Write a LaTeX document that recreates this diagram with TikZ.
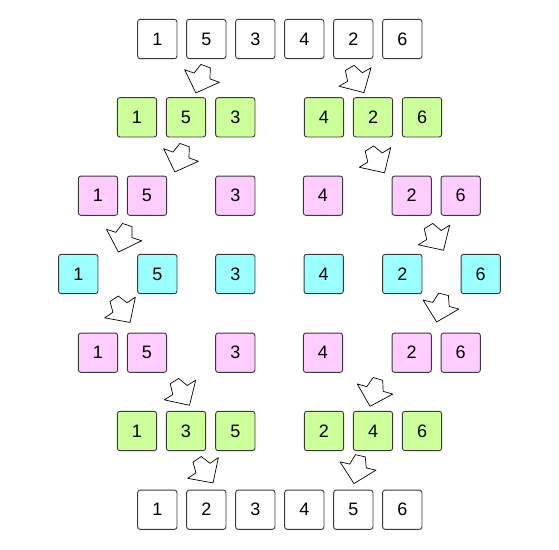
\documentclass[tikz,border=0pt]{standalone}
\usepackage{fontspec}
\setmainfont{Liberation Sans}
\definecolor{grn}{HTML}{CCFF99}
\definecolor{pnk}{HTML}{FFCCFF}
\definecolor{cyn}{HTML}{99FFFF}
\definecolor{edge}{HTML}{3A3A3A}
\newcommand\blockarr[2]{\draw[blockarrow, shift={(#1)}, rotate=#2] (-18.5,0) -- (-8.5,0) -- (-5,-10.5) -- (5,-10.5) -- (8.5,0) -- (18.5,0) -- (0,18) -- cycle;}
\begin{document}
\begin{tikzpicture}[x=1pt,y=-1pt,
  box/.style={draw=edge, line width=0.9pt, rounded corners=2.5pt, minimum width=39.3pt, minimum height=39.3pt, inner sep=0pt, font=\fontsize{18}{18}\selectfont, text=black},
  wbox/.style={box, fill=white},
  gbox/.style={box, fill=grn},
  pbox/.style={box, fill=pnk},
  cbox/.style={box, fill=cyn},
  blockarrow/.style={draw=black, fill=white, line width=0.7pt, line join=round}]
\useasboundingbox (0,0) rectangle (559,549);
% row 1
\node[wbox] (r1a) at (157.3,39) {1};
\node[wbox] (r1b) at (206.3,39) {5};
\node[wbox] (r1c) at (255.3,39) {3};
\node[wbox] (r1d) at (304.3,39) {4};
\node[wbox] (r1e) at (353.3,39) {2};
\node[wbox] (r1f) at (402.3,39) {6};
% row 2
\node[gbox] (r2a) at (137,117.3) {1};
\node[gbox] (r2b) at (186,117.3) {5};
\node[gbox] (r2c) at (235.3,117.3) {3};
\node[gbox] (r2d) at (324,117.3) {4};
\node[gbox] (r2e) at (373,117.3) {2};
\node[gbox] (r2f) at (422,117.3) {6};
% row 3
\node[pbox] (r3a) at (98,195.7) {1};
\node[pbox] (r3b) at (147,195.7) {5};
\node[pbox] (r3c) at (235.3,195.7) {3};
\node[pbox] (r3d) at (323,195.7) {4};
\node[pbox] (r3e) at (411.7,195.7) {2};
\node[pbox] (r3f) at (460.7,195.7) {6};
% row 4
\node[cbox] (r4a) at (78.3,274) {1};
\node[cbox] (r4b) at (157.3,274) {5};
\node[cbox] (r4c) at (235.3,274) {3};
\node[cbox] (r4d) at (323.7,274) {4};
\node[cbox] (r4e) at (402.3,274) {2};
\node[cbox] (r4f) at (480.7,274) {6};
% row 5
\node[pbox] (r5a) at (98,352.7) {1};
\node[pbox] (r5b) at (147,352.7) {5};
\node[pbox] (r5c) at (235.3,352.7) {3};
\node[pbox] (r5d) at (323,352.7) {4};
\node[pbox] (r5e) at (411.7,352.7) {2};
\node[pbox] (r5f) at (460.7,352.7) {6};
% row 6
\node[gbox] (r6a) at (137,431) {1};
\node[gbox] (r6b) at (186,431) {3};
\node[gbox] (r6c) at (235.3,431) {5};
\node[gbox] (r6d) at (324,431) {2};
\node[gbox] (r6e) at (373,431) {4};
\node[gbox] (r6f) at (422,431) {6};
% row 7
\node[wbox] (r7a) at (157.3,509.7) {1};
\node[wbox] (r7b) at (206.3,509.7) {2};
\node[wbox] (r7c) at (255.3,509.7) {3};
\node[wbox] (r7d) at (304.3,509.7) {4};
\node[wbox] (r7e) at (353.3,509.7) {5};
\node[wbox] (r7f) at (402.3,509.7) {6};
% arrows
\coordinate (a1) at (202,76);
\coordinate (a2) at (355,77);
\coordinate (a3) at (181,155);
\coordinate (a4) at (375,157.5);
\coordinate (a5) at (124,235);
\coordinate (a6) at (434,235);
\coordinate (a7) at (120,307.5);
\coordinate (a8) at (441,304.5);
\coordinate (a9) at (180,390);
\coordinate (a10) at (375,389);
\coordinate (a11) at (203,468);
\coordinate (a12) at (358,466);
\blockarr{a1}{-20}
\blockarr{a2}{30}
\blockarr{a3}{-20}
\blockarr{a4}{32}
\blockarr{a5}{-18}
\blockarr{a6}{32}
\blockarr{a7}{34}
\blockarr{a8}{-14}
\blockarr{a9}{32}
\blockarr{a10}{-16}
\blockarr{a11}{34}
\blockarr{a12}{-13}
\end{tikzpicture}
\end{document}
